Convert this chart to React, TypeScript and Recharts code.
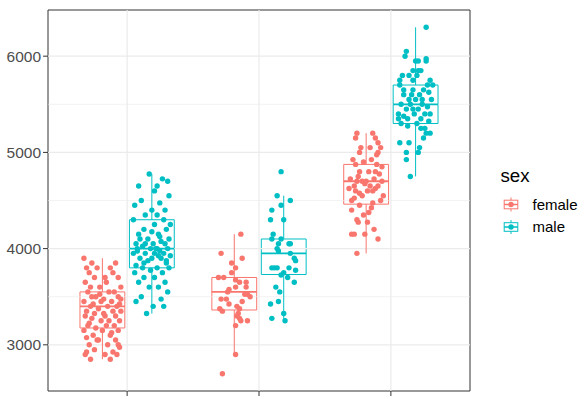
import { ComposedChart, ReferenceArea, ReferenceLine, Scatter, XAxis, YAxis } from 'recharts';

const species = ['Adelie', 'Chinstrap', 'Gentoo'];
const sexes = ['female', 'male'];
const sexColors = ['#F8766D', '#00BFC4'];
const yTicks = [3000, 4000, 5000, 6000];
const minorTicks = [3500, 4500, 5500];

// five-number summaries per species: [min, q1, median, q3, max]
const femaleBoxes = [
  [2850, 3175, 3400, 3550, 3900],
  [2900, 3362, 3550, 3700, 4150],
  [3950, 4462, 4700, 4875, 5200],
];
const maleBoxes = [
  [3325, 3800, 4000, 4300, 4775],
  [3250, 3731, 3950, 4100, 4550],
  [4750, 5300, 5500, 5700, 6300],
];

// jittered observations: [x jitter, body mass (g)]
const adelieFemale = [
  [-0.14, 3900], [-0.08, 3850], [0.1, 3850], [-0.12, 3800], [-0.04, 3800], [0.06, 3800], [-0.1, 3750], [0.08, 3750],
  [-0.06, 3700], [0.12, 3700], [0.02, 3700], [-0.13, 3650], [0.14, 3600], [-0.09, 3600], [-0.02, 3600], [0.05, 3550],
  [-0.11, 3550], [0.09, 3550], [0.12, 3500], [-0.05, 3500], [0.01, 3475], [-0.14, 3450], [0.07, 3450], [-0.01, 3450],
  [0.13, 3425], [-0.09, 3400], [0.04, 3400], [0.11, 3400], [-0.03, 3375], [0.08, 3350], [-0.12, 3350], [0.14, 3350],
  [-0.06, 3325], [0.02, 3300], [-0.13, 3300], [0.1, 3300], [-0.08, 3275], [0.05, 3250], [-0.01, 3250], [0.13, 3250],
  [-0.11, 3200], [0.03, 3200], [0.09, 3200], [-0.05, 3175], [-0.14, 3150], [0.12, 3150], [0.0, 3150], [-0.07, 3100],
  [0.06, 3100], [-0.12, 3075], [0.1, 3050], [-0.03, 3050], [0.04, 3000], [-0.1, 3000], [0.13, 2975], [-0.06, 2950],
  [0.08, 2925], [-0.13, 2900], [0.02, 2900], [0.11, 2900], [-0.09, 2850], [0.06, 2850], [-0.02, 3525], [0.14, 3475],
  [-0.07, 3425], [0.01, 3325], [-0.1, 3225], [0.07, 3125], [-0.04, 3050], [0.12, 3000], [-0.12, 2925], [0.03, 3650],
  [-0.08, 3500],
];
const adelieMale = [
  [-0.02, 4775], [0.08, 4725], [0.12, 4700], [-0.1, 4650], [0.04, 4650], [0.02, 4600], [-0.08, 4500], [0.06, 4475],
  [-0.13, 4450], [0.0, 4400], [0.1, 4400], [-0.05, 4350], [0.09, 4300], [-0.14, 4300], [0.14, 4250], [0.02, 4250],
  [-0.06, 4200], [0.11, 4200], [-0.1, 4150], [0.05, 4150], [0.13, 4100], [-0.03, 4100], [0.07, 4075], [-0.12, 4050],
  [0.01, 4050], [0.1, 4050], [-0.07, 4025], [0.04, 4000], [-0.01, 4000], [0.12, 4000], [-0.11, 3975], [0.06, 3975],
  [0.02, 3950], [-0.05, 3950], [0.09, 3950], [-0.14, 3950], [0.14, 3925], [0.0, 3900], [-0.09, 3900], [0.07, 3900],
  [-0.03, 3875], [0.11, 3850], [-0.12, 3825], [0.04, 3800], [-0.07, 3800], [0.13, 3800], [-0.01, 3775], [0.08, 3750],
  [-0.13, 3750], [0.02, 3700], [-0.06, 3700], [0.1, 3650], [-0.1, 3650], [0.05, 3600], [-0.02, 3600], [0.12, 3550],
  [-0.08, 3500], [0.07, 3475], [-0.12, 3450], [0.01, 3400], [0.09, 3400], [-0.04, 3325], [0.03, 4000], [-0.05, 4050],
  [0.06, 4125], [-0.09, 4100], [0.11, 3875], [0.0, 4175], [-0.06, 3850], [0.04, 4350], [0.13, 4550], [-0.11, 4000],
  [0.05, 3925],
];
const chinstrapFemale = [
  [0.05, 4150], [-0.1, 3950], [-0.02, 3850], [0.06, 3900], [0.01, 3800], [-0.02, 3750], [-0.08, 3700], [0.01, 3675],
  [0.04, 3650], [0.09, 3650], [0.09, 3600], [-0.04, 3575], [0.01, 3600], [0.08, 3525], [0.1, 3525], [-0.1, 3475],
  [-0.06, 3475], [-0.04, 3425], [0.02, 3400], [0.04, 3375], [-0.11, 3375], [-0.09, 3350], [0.03, 3325], [0.02, 3300],
  [0.04, 3275], [0.05, 3250], [0.1, 3250], [0.01, 3200], [0.01, 2900], [-0.09, 2700], [-0.05, 3550], [0.06, 3450],
  [-0.12, 3700], [0.12, 3500],
];
const chinstrapMale = [
  [-0.02, 4800], [-0.05, 4550], [-0.02, 4450], [0.05, 4500], [-0.09, 4400], [-0.1, 4300], [0.0, 4300], [-0.08, 4150],
  [-0.09, 4100], [-0.02, 4100], [-0.04, 4050], [0.04, 4050], [0.05, 4050], [-0.05, 4000], [-0.04, 3975], [0.05, 3950],
  [0.08, 3900], [0.09, 3875], [-0.09, 3800], [-0.07, 3800], [-0.05, 3800], [0.04, 3800], [0.09, 3775], [-0.02, 3725],
  [0.0, 3750], [0.03, 3700], [0.08, 3650], [-0.06, 3600], [-0.03, 3550], [-0.04, 3450], [-0.1, 3425], [0.0, 3325],
  [-0.09, 3275], [0.01, 3250],
];
const gentooFemale = [
  [-0.07, 5200], [0.05, 5200], [-0.08, 5150], [0.07, 5150], [0.09, 5100], [-0.04, 5050], [0.09, 5000], [0.11, 5050],
  [-0.05, 5000], [0.08, 4975], [-0.1, 4925], [-0.08, 4875], [-0.02, 4900], [0.04, 4925], [-0.05, 4800], [0.07, 4800],
  [-0.06, 4750], [0.1, 4775], [-0.07, 4700], [-0.03, 4700], [0.0, 4700], [0.03, 4650], [0.07, 4625], [0.09, 4650],
  [-0.08, 4600], [-0.05, 4575], [0.01, 4600], [0.05, 4600], [-0.11, 4500], [-0.09, 4525], [-0.05, 4450], [0.04, 4425],
  [0.05, 4475], [-0.11, 4400], [0.02, 4375], [-0.07, 4300], [-0.06, 4275], [0.01, 4275], [-0.01, 4150], [-0.11, 4150],
  [-0.09, 4150], [0.09, 4100], [-0.07, 3950], [0.12, 4850], [-0.12, 4725], [0.06, 4725], [-0.01, 4675], [0.13, 4550],
  [-0.03, 4550], [0.11, 4500], [-0.13, 4625], [0.08, 4875], [0.02, 4800], [-0.09, 4650], [0.12, 4700], [-0.02, 4350],
  [0.06, 4200], [0.03, 5050],
];
const gentooMale = [
  [0.08, 6300], [-0.07, 6050], [-0.08, 6000], [0.08, 5975], [0.02, 5950], [0.0, 5950], [-0.02, 5850], [0.02, 5850],
  [0.04, 5850], [-0.1, 5800], [-0.05, 5800], [-0.02, 5750], [0.09, 5700], [0.11, 5750], [-0.12, 5700], [-0.02, 5650],
  [0.06, 5650], [-0.09, 5600], [0.03, 5600], [0.1, 5625], [-0.05, 5550], [0.0, 5550], [0.12, 5550], [-0.11, 5500],
  [-0.04, 5500], [0.05, 5500], [0.09, 5475], [-0.07, 5450], [0.02, 5450], [-0.13, 5400], [-0.01, 5400], [0.07, 5400],
  [-0.09, 5375], [0.04, 5350], [-0.13, 5350], [-0.11, 5300], [0.01, 5300], [0.1, 5325], [-0.06, 5275], [0.04, 5250],
  [0.08, 5200], [0.11, 5200], [-0.12, 5100], [-0.05, 5100], [0.03, 5050], [0.02, 5000], [-0.07, 5000], [-0.07, 4925],
  [-0.04, 4750], [0.06, 5150], [-0.03, 5600], [0.13, 5700], [-0.09, 5650], [0.05, 5550], [-0.02, 5450], [0.11, 5400],
  [-0.06, 5350], [0.08, 5950], [-0.12, 5750], [0.01, 5800], [0.07, 5250],
];

const DODGE = 0.1875;
const HALF_BOX = 0.17;
const FONT = '"Liberation Sans", Arial, sans-serif';

const boxes = [femaleBoxes, maleBoxes];
const groups = [
  [adelieFemale, chinstrapFemale, gentooFemale],
  [adelieMale, chinstrapMale, gentooMale],
];
const offsets = [-DODGE, DODGE];

const points = groups.map((bySpecies, s) =>
  bySpecies.flatMap((obs, i) => obs.map(([j, v]) => ({ x: i + 1 + offsets[s] + j, y: v })))
);

function LegendKey({ y, color }: { y: number; color: string }) {
  const cx = 511;
  return (
    <g stroke={color} fill="none" strokeWidth={1}>
      <line x1={cx} x2={cx} y1={y - 7} y2={y - 4.3} />
      <line x1={cx} x2={cx} y1={y + 4.3} y2={y + 7} />
      <rect x={504.2} y={y - 4.3} width={13.6} height={8.6} fill="#fff" />
      <line x1={504.2} x2={517.8} y1={y} y2={y} strokeWidth={1.5} />
      <circle cx={cx} cy={y} r={2.7} fill={color} stroke="none" />
    </g>
  );
}

export default function App() {
  return (
    <div style={{ position: 'absolute', left: 0, top: 0, width: 587, height: 399, background: '#fff', fontFamily: FONT }}>
      <ComposedChart width={587} height={399} margin={{ top: 10, right: 117, bottom: 0, left: 0 }}>
        <XAxis
          type="number"
          dataKey="x"
          domain={[0.4, 3.6]}
          ticks={[1, 2, 3]}
          tickFormatter={() => ''}
          axisLine={false}
          tickLine={{ stroke: '#333333' }}
          tickSize={5}
          height={8}
        />
        <YAxis
          type="number"
          dataKey="y"
          domain={[2520, 6480]}
          ticks={yTicks}
          axisLine={false}
          tickLine={{ stroke: '#333333' }}
          tickSize={5}
          tickMargin={2}
          width={48}
          tick={{ fill: '#4D4D4D', fontSize: 15.5, fontFamily: FONT }}
        />
        {minorTicks.map(v => (
          <ReferenceLine key={'mi' + v} y={v} stroke="#EBEBEB" strokeWidth={0.6} />
        ))}
        {yTicks.map(v => (
          <ReferenceLine key={'ma' + v} y={v} stroke="#EBEBEB" strokeWidth={1.2} />
        ))}
        {species.map((sp, i) => (
          <ReferenceLine key={'vx' + sp} x={i + 1} stroke="#EBEBEB" strokeWidth={1.2} />
        ))}
        {sexes.map((sex, s) =>
          boxes[s].map((b, i) => {
            const cx = i + 1 + offsets[s];
            const c = sexColors[s];
            return [
              <ReferenceLine key={sex + i + 'wu'} segment={[{ x: cx, y: b[3] }, { x: cx, y: b[4] }]} stroke={c} strokeWidth={1} />,
              <ReferenceLine key={sex + i + 'wl'} segment={[{ x: cx, y: b[0] }, { x: cx, y: b[1] }]} stroke={c} strokeWidth={1} />,
              <ReferenceArea
                key={sex + i + 'box'}
                x1={cx - HALF_BOX}
                x2={cx + HALF_BOX}
                y1={b[1]}
                y2={b[3]}
                fill="#fff"
                fillOpacity={1}
                stroke={c}
                strokeWidth={1}
              />,
              <ReferenceLine
                key={sex + i + 'med'}
                segment={[{ x: cx - HALF_BOX, y: b[2] }, { x: cx + HALF_BOX, y: b[2] }]}
                stroke={c}
                strokeWidth={1.8}
              />,
            ];
          })
        )}
        <ReferenceArea x1={0.4} x2={3.6} y1={2520} y2={6480} fill="none" stroke="#333333" strokeWidth={1} />
        {sexes.map((sex, s) => (
          <Scatter
            key={sex}
            name={sex}
            data={points[s]}
            isAnimationActive={false}
            shape={(p: any) => <circle cx={p.cx} cy={p.cy} r={2.7} fill={sexColors[s]} />}
          />
        ))}
      </ComposedChart>
      <svg width={587} height={399} style={{ position: 'absolute', left: 0, top: 0, pointerEvents: 'none' }}>
        <text x={500.5} y={181.5} fontSize={18.7} fill="#000" fontFamily={FONT}>
          sex
        </text>
        {sexes.map((sex, s) => (
          <g key={sex}>
            <LegendKey y={204.5 + s * 22.5} color={sexColors[s]} />
            <text x={532.5} y={209.8 + s * 22.5} fontSize={15} fill="#000" fontFamily={FONT}>
              {sex}
            </text>
          </g>
        ))}
      </svg>
    </div>
  );
}
